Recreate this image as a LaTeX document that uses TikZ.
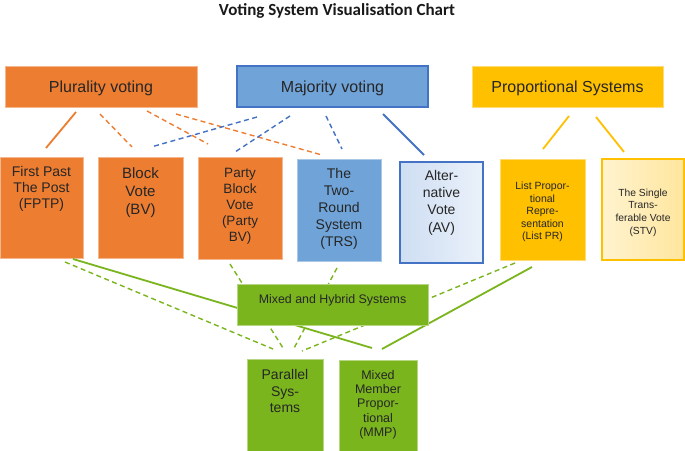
\documentclass[tikz,border=0pt]{standalone}
\usepackage{fontspec}
\setmainfont{Liberation Sans}
\newfontfamily\titlefont{Carlito}
\usetikzlibrary{calc}
\definecolor{orng}{HTML}{ED7D31}
\definecolor{blu}{HTML}{70A3D7}
\definecolor{dblu}{HTML}{4472C4}
\definecolor{yel}{HTML}{FFC000}
\definecolor{grn}{HTML}{7AB51D}
\definecolor{avA}{HTML}{CFDEF3}
\definecolor{avB}{HTML}{EAF1FA}
\definecolor{stA}{HTML}{FFF3CF}
\definecolor{stB}{HTML}{FFE69E}
\newcommand{\fsz}[2]{\fontsize{#1}{#2}\selectfont}
\begin{document}
\begin{tikzpicture}[x=1pt,y=-1pt,
  basebox/.style={anchor=north west, inner sep=0pt, outer sep=0pt},
  obox/.style={basebox, fill=orng, draw=orng!55!white, line width=0.8pt},
  bbox/.style={basebox, fill=blu, draw=blu!60!white, line width=0.8pt},
  bdbox/.style={basebox, fill=blu, draw=dblu, line width=1.6pt},
  ybox/.style={basebox, fill=yel, draw=yel!55!white, line width=0.8pt},
  gbox/.style={basebox, fill=grn, draw=grn!55!white, line width=0.8pt},
  avbox/.style={basebox, left color=avA, right color=avB, draw=dblu, line width=1.6pt},
  stbox/.style={basebox, left color=stA, right color=stB, draw=yel, line width=1.6pt},
  txt/.style={align=center, inner sep=0pt, text=black!85},
  solid line/.style={line width=1.8pt},
  dash line/.style={line width=1.4pt, dash pattern=on 5pt off 3.5pt},
  ol/.style={solid line, draw=orng}, od/.style={dash line, draw=orng},
  bl/.style={solid line, draw=dblu}, bd/.style={dash line, draw=dblu},
  yl/.style={solid line, draw=yel},
  gl/.style={solid line, draw=grn}, gd/.style={dash line, draw=grn}
]
\useasboundingbox[fill=white] (0,0) rectangle (685,450);

% title
\node[anchor=base, inner sep=0pt, font=\titlefont\bfseries\fsz{17}{20}, text=black!90] (title) at (337,15) {Voting System Visualisation Chart};

% top row
\node[obox, minimum width=192, minimum height=41] (plur) at (5,66) {};
\node[bdbox, minimum width=191, minimum height=41] (maj) at (237,66) {};
\node[ybox, minimum width=191, minimum height=41] (prop) at (472,66) {};

% second row
\node[obox, minimum width=83, minimum height=101] (fptp) at (0,157) {};
\node[obox, minimum width=85, minimum height=101] (bv) at (98,157) {};
\node[obox, minimum width=84, minimum height=102] (pbv) at (198,157) {};
\node[bbox, minimum width=84, minimum height=102] (trs) at (297,159) {};
\node[avbox, minimum width=83, minimum height=101] (av) at (400,162) {};
\node[ybox, minimum width=85, minimum height=101] (lpr) at (500,159) {};
\node[stbox, minimum width=82, minimum height=101] (stv) at (602,159) {};

% connectors top
\draw[ol] ($(plur.south west)+(71,5)$) -- ($(fptp.north west)+(46,-9)$);
\draw[od] ($(plur.south west)+(95,7)$) -- ($(bv.north west)+(34,-10)$);
\draw[od] ($(plur.south west)+(142,4)$) -- ($(pbv.north west)+(10,-13)$);
\draw[od] ($(plur.south west)+(171,7)$) -- ($(trs.north west)+(25,-4)$);
\draw[bd] ($(maj.south west)+(20,10)$) -- ($(bv.north west)+(53,-10)$);
\draw[bd] ($(maj.south west)+(53,9)$) -- ($(pbv.north west)+(37,-5)$);
\draw[bd] ($(maj.south west)+(89,9)$) -- ($(trs.north west)+(45,-10)$);
\draw[bl] ($(maj.south west)+(146,7)$) -- ($(av.north west)+(24,-7)$);
\draw[yl] ($(prop.south west)+(97,9)$) -- ($(lpr.north west)+(43,-10)$);
\draw[yl] ($(prop.south west)+(124,10)$) -- ($(stv.north west)+(22,-7)$);

% bottom boxes
\node[gbox, minimum width=76, minimum height=93] (par) at (247,359) {};
\node[gbox, minimum width=78, minimum height=92] (mmp) at (339,360) {};

% green connectors (behind the mixed box)
\draw[gd] ($(fptp.south west)+(65,4)$) -- ($(par.north west)+(26,-10)$);
\draw[gl] ($(fptp.south west)+(73,1)$) -- ($(mmp.north west)+(33,-12)$);
\draw[gd] ($(pbv.south west)+(32,5)$) -- ($(par.north west)+(36,-11)$);
\draw[gd] ($(trs.south west)+(40,7)$) -- ($(par.north west)+(46,-9)$);
\draw[gd] ($(lpr.south west)+(15,3)$) -- ($(par.north west)+(55,-8)$);
\draw[gl] ($(lpr.south west)+(32,7)$) -- ($(mmp.north west)+(43,-11)$);

\node[gbox, minimum width=191, minimum height=41] (mix) at (237,284) {};

% texts
\node[txt, font=\fsz{16}{19}] (plurt) at ($(plur.center)+(0,2)$) {Plurality voting};
\node[txt, font=\fsz{16}{19}] (majt) at ($(maj.center)+(0,2)$) {Majority voting};
\node[txt, font=\fsz{16}{19}] (propt) at ($(prop.center)+(0,2)$) {Proportional Systems};

\node[txt, font=\fsz{14}{16.3}] (fptpt) at ($(fptp.north)+(0,32)$) {First Past\\The Post\\(FPTP)};
\node[txt, font=\fsz{15}{18}] (bvt) at ($(bv.north)+(0,35.5)$) {Block\\Vote\\(BV)};
\node[txt, font=\fsz{13.5}{16}] (pbvt) at ($(pbv.north)+(0,49)$) {Party\\Block\\Vote\\(Party\\BV)};
\node[txt, font=\fsz{14}{17}] (trst) at ($(trs.north)+(0,50)$) {The\\Two-\\Round\\System\\(TRS)};
\node[txt, font=\fsz{14}{17.3}] (avt) at ($(av.north)+(0,40.5)$) {Alter-\\native\\Vote\\(AV)};
\node[txt, font=\fsz{10.5}{12.5}] (lprt) at ($(lpr.north)+(0,53)$) {List Propor-\\tional\\Repre-\\sentation\\(List PR)};
\node[txt, font=\fsz{10.3}{12.7}] (stvt) at ($(stv.north)+(0,53.5)$) {The Single\\Trans-\\ferable Vote\\(STV)};
\node[txt, font=\fsz{12.4}{15}] (mixt) at ($(mix.north)+(0,16)$) {Mixed and Hybrid Systems};
\node[txt, font=\fsz{14}{16.5}] (part) at ($(par.north)+(0,32)$) {Parallel\\Sys-\\tems};
\node[txt, font=\fsz{12.5}{14.3}] (mmpt) at ($(mmp.north)+(0,44.5)$) {Mixed\\Member\\Propor-\\tional\\(MMP)};
\end{tikzpicture}
\end{document}
